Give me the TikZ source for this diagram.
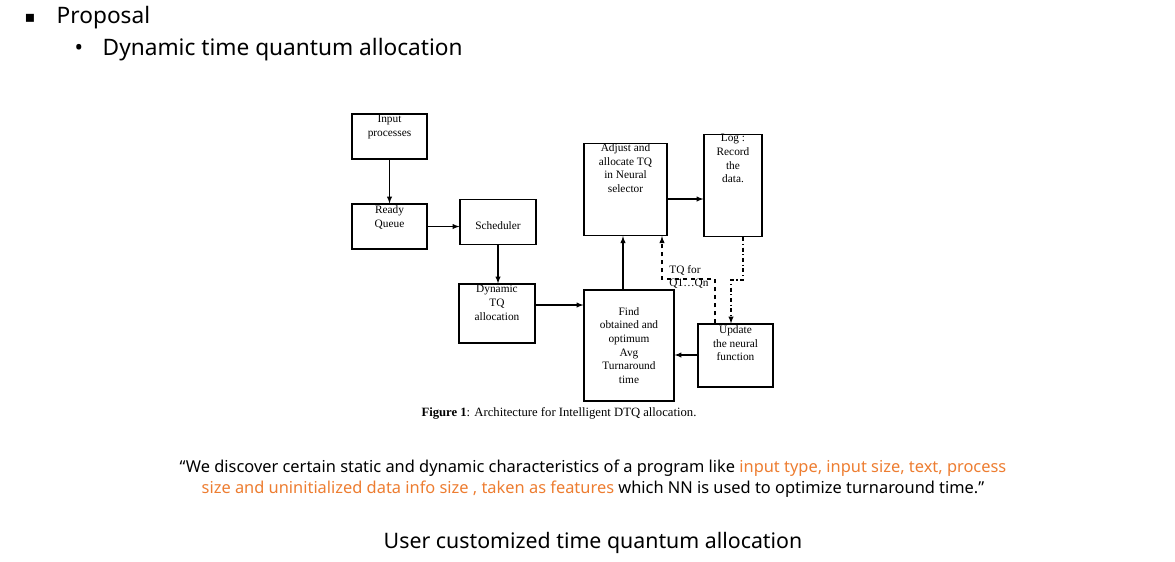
\documentclass[tikz,border=0pt]{standalone}
\usepackage{fontspec}
\setmainfont{Noto Sans}
\newfontfamily\tnr{Liberation Serif}
\newfontfamily\djvfont{DejaVu Sans}
\definecolor{orng}{RGB}{237,125,49}
\begin{document}
\begin{tikzpicture}[x=0.75pt,y=-0.75pt,
  bx/.style={draw,line width=0.8pt,inner sep=0pt,align=center,font=\tnr\fontsize{8.5}{10.3}\selectfont},
  ar/.style={-latex,line width=0.8pt},
  dsh/.style={-latex,line width=0.8pt,dashed},
  dd/.style={-latex,line width=0.8pt,dash dot}]
\useasboundingbox (0,0) rectangle (1175,561);
\node[anchor=west,font=\djvfont\fontsize{12}{14}\selectfont] (b1) at (20,18) {▪};
\node[anchor=west,font=\fontsize{17}{20}\selectfont] (t1) at (52,18) {Proposal};
\node[anchor=west,font=\fontsize{17}{20}\selectfont] (b2) at (70,50) {•};
\node[anchor=west,font=\fontsize{17}{20}\selectfont] (t2) at (98,50) {Dynamic time quantum allocation};
% boxes
\node[bx,minimum width=56.25pt,minimum height=33.75pt] (inp) at (389.5,136.5) {Input\\processes\\[6pt]};
\node[bx,minimum width=56.25pt,minimum height=33.75pt] (rdy) at (389.5,226.5) {Ready\\Queue\\[5pt]};
\node[bx,minimum width=57pt,minimum height=33.75pt,anchor=north] (sch) at (498,199) {\rule{0pt}{11pt}Scheduler};
\node[bx,minimum width=57pt,minimum height=44.25pt] (dyn) at (497,313.5) {Dynamic\\TQ\\allocation\\[6pt]};
\node[bx,minimum width=67.5pt,minimum height=83.25pt] (fnd) at (629,345.5) {Find\\obtained and\\optimum\\Avg\\Turnaround\\time};
\node[bx,minimum width=62.25pt,minimum height=66.75pt] (adj) at (625.5,189.5) {Adjust and\\allocate TQ\\in Neural\\selector\\[22pt]};
\node[bx,minimum width=43.5pt,minimum height=72.75pt] (log) at (733,185.5) {Log :\\Record\\the\\data.\\[30pt]};
\node[bx,minimum width=56.25pt,minimum height=47.25pt] (upd) at (735.5,355.5) {Update\\the neural\\function\\[8pt]};
\node[font=\tnr\fontsize{8.5}{10}\selectfont,align=left,inner sep=0pt] (tq) at (689,277) {TQ for\\Q1…Qn};
\node[font=\tnr\fontsize{9.5}{11}\selectfont] (cap) at (559,413) {\textbf{Figure 1}: Architecture for Intelligent DTQ allocation.};
% arrows
\draw[ar] (inp) -- (rdy);
\draw[ar] (rdy.east) -- (rdy.east -| sch.west);
\draw[ar] (sch.south) -- (sch.south |- dyn.north);
\draw[ar] (dyn.east |- 0,305) -- (fnd.west |- 0,305);
\draw[ar] (fnd.north -| 623,0) -- (adj.south -| 623,0);
\draw[ar] (adj.east |- 0,199) -- (log.west |- 0,199);
\draw[ar] (upd.west |- 0,355) -- (fnd.east |- 0,355);
\coordinate (d1) at (715,279);
\coordinate (d2) at (662,279);
\draw[dsh] (upd.north -| d1) -- (d1) -- (d2) -- (adj.south -| d2);
\coordinate (e1) at (743,280);
\coordinate (e2) at (731,280);
\draw[dd] (log.south -| e1) -- (e1) -- (e2) -- (upd.north -| e2);
% quote
\node[font=\fontsize{12.3}{15.8}\selectfont,align=center] (q) at (593,478.5) {“We discover certain static and dynamic characteristics of a program like \textcolor{orng}{\textbf{input type, input size, text, process}}\\\textcolor{orng}{\textbf{size and uninitialized data info size , taken as features}} which NN is used to optimize turnaround time.”};
\node[font=\fontsize{16}{19}\selectfont] (u) at (593,543) {User customized time quantum allocation};
\end{tikzpicture}
\end{document}
